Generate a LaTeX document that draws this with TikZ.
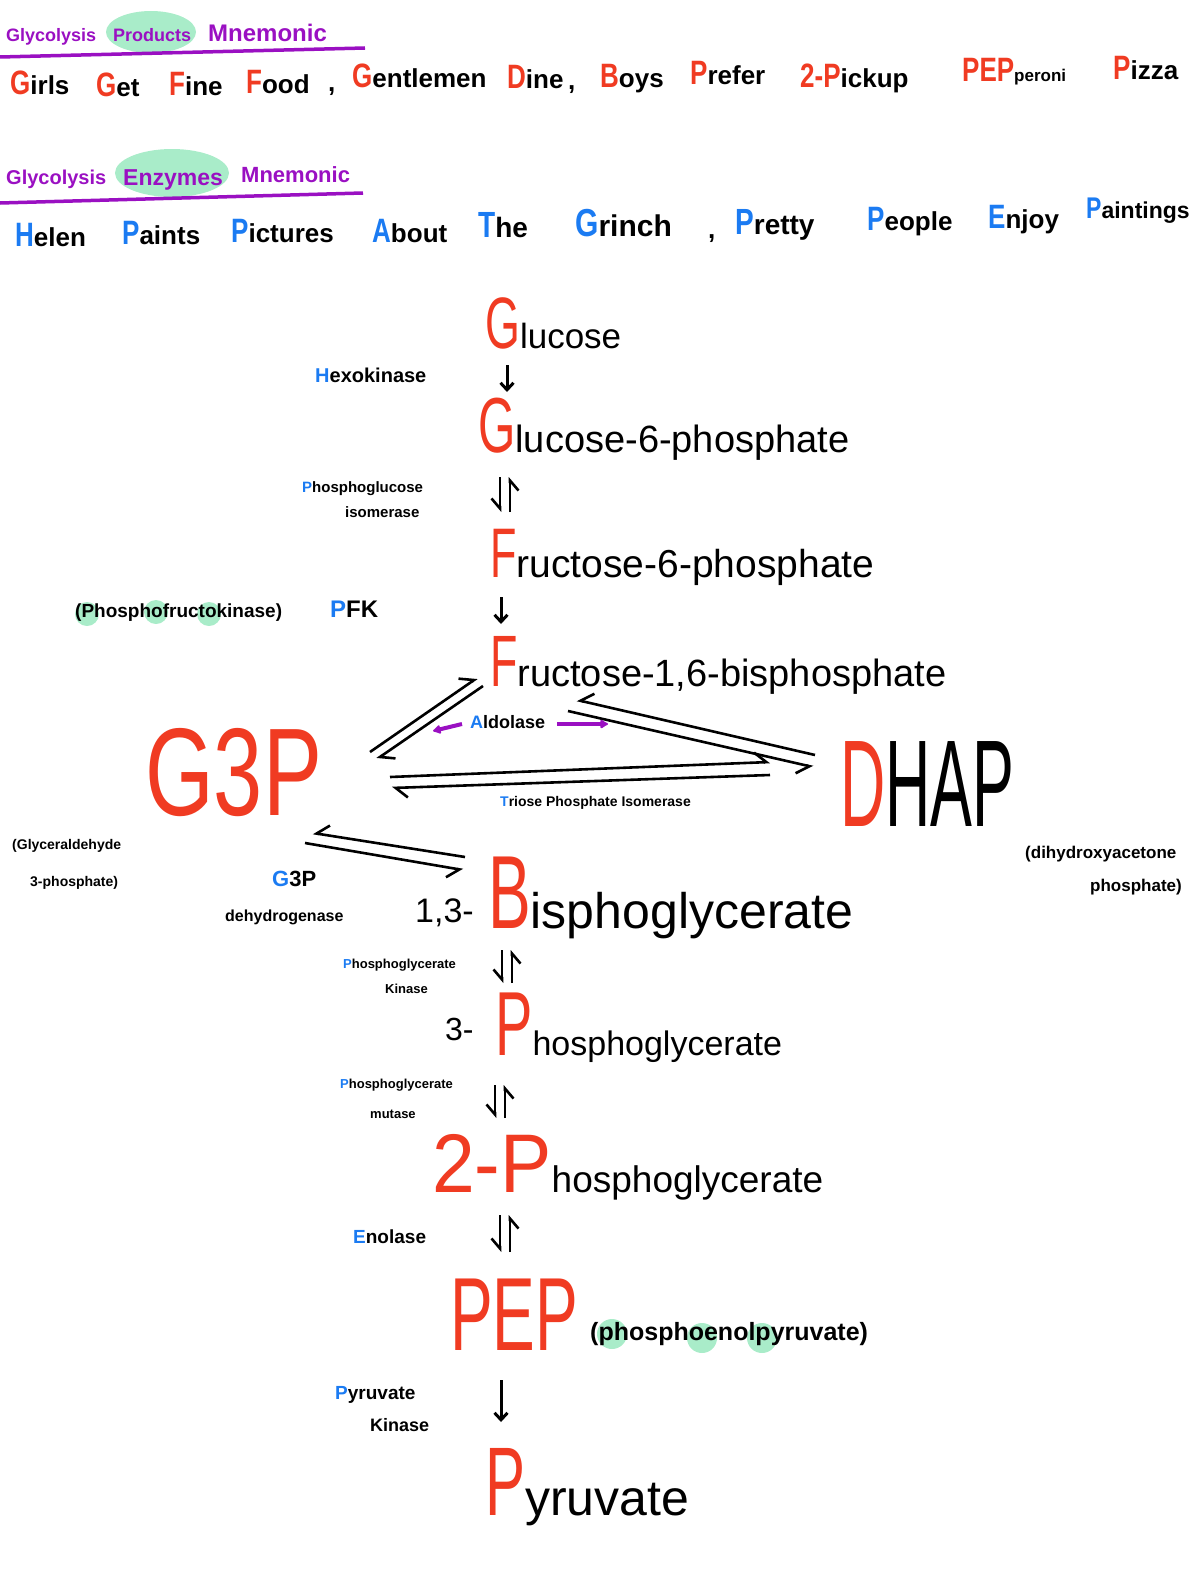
\documentclass[tikz,border=0pt]{standalone}
\usepackage{fontspec}
\setmainfont{Liberation Sans}
\usepackage{graphicx}
\usetikzlibrary{
    arrows.meta,            % Straight Barb harpoons.
    positioning
}

\definecolor{prodred}{HTML}{F03B22}
\definecolor{enzblue}{HTML}{1B7BF2}
\definecolor{mnpurple}{HTML}{9A10C2}
\definecolor{hlgreen}{HTML}{A9ECC9}

\newcommand{\fsz}[1]{\fontsize{#1}{#1}\selectfont}
\newcommand{\rw}[1]{\textcolor{prodred}{\scalebox{1}[1.3]{#1}}}
\newcommand{\bw}[1]{\textcolor{enzblue}{\scalebox{1}[1.3]{#1}}}
\newcommand{\capred}[3][0.8]{{\color{prodred}\fsz{#2}\scalebox{#1}[1.3]{#3}}}

\tikzset{
    word/.style={anchor=base west, inner sep=0pt, font=\bfseries\fsz{26}},
    head/.style={anchor=base west, inner sep=0pt, text=mnpurple, font=\bfseries\fsz{20}},
    prod/.style={anchor=base west, inner sep=0pt},
    enz/.style={anchor=base west, inner sep=0pt, font=\bfseries\fsz{16}},
    fwd/.style={line width=3pt, -{Straight Barb[length=7pt, width=13pt]}},
    hp/.style={line width=2.6pt, -{Straight Barb[harpoon, length=12pt, width=20pt]}},
    hps/.style={line width=2.6pt, -{Straight Barb[harpoon, swap, length=10pt, width=17pt]}},
    ald/.style={mnpurple, line width=4pt, -{Latex[round, length=9pt, width=11pt]}},
    hl/.style={fill=hlgreen, draw=none},
    uline/.style={mnpurple, line width=3.5pt}
}

\begin{document}
\begin{tikzpicture}[x=1pt, y=-1pt]
    \useasboundingbox (0,0) rectangle (1200,1576);
    % green highlights
    \fill[hl] (151,32) ellipse [x radius=45pt, y radius=21pt];
    \fill[hl] (172,173) ellipse [x radius=57pt, y radius=24pt];
    \fill[hl] (87,614) circle [radius=12pt];
    \fill[hl] (156,612) circle [radius=12pt];
    \fill[hl] (209,614) circle [radius=12pt];
    \fill[hl] (612,1334) circle [radius=15pt];
    \fill[hl] (702,1338) circle [radius=15pt];
    \fill[hl] (762,1338) circle [radius=15pt];

    % products mnemonic
    \node[head, font=\bfseries\fsz{18}] (ha1) at (6,42) {Glycolysis};
    \node[head, font=\bfseries\fsz{18}] (ha2) at (113,42) {Products};
    \node[head, font=\bfseries\fsz{24}] (ha3) at (208,42) {Mnemonic};
    \draw[uline] (0,57) -- (365,48);
    \node[word] (m1) at (10,95) {\rw{G}irls};
    \node[word] (m2) at (96,97) {\rw{G}et};
    \node[word] (m3) at (169,96) {\rw{F}ine};
    \node[word] (m4) at (246,94) {\rw{F}ood};
    \node[word] (m5) at (328,92) {,};
    \node[word] (m6) at (352,88) {\rw{G}entlemen};
    \node[word] (m7) at (507,89) {\rw{D}ine};
    \node[word] (m8) at (568,90) {,};
    \node[word] (m9) at (600,88) {\rw{B}oys};
    \node[word] (m10) at (690,85) {\rw{P}refer};
    \node[word] (m11) at (800,88) {\rw{2-P}ickup};
    \node[word] (m12) at (962,82) {\rw{PEP}{\fsz{17}peroni}};
    \node[word] (m13) at (1113,80) {\rw{P}izza};

    % enzymes mnemonic
    \node[head] (hb1) at (6,184) {Glycolysis};
    \node[head, font=\bfseries\fsz{23}] (hb2) at (123,185) {Enzymes};
    \node[head, font=\bfseries\fsz{22}] (hb3) at (241,182) {Mnemonic};
    \draw[uline] (0,203) -- (363,193);
    \node[word] (n1) at (15,246) {\bw{H}elen};
    \node[word] (n2) at (122,244) {\bw{P}aints};
    \node[word] (n3) at (231,242) {\bw{P}ictures};
    \node[word] (n4) at (372,242) {\bw{A}bout};
    \node[word, font=\bfseries\fsz{28}] (n5) at (478,237) {\bw{T}he};
    \node[word, font=\bfseries\fsz{30}] (n6) at (575,236) {\bw{G}rinch};
    \node[word] (n7) at (708,238) {,};
    \node[word, font=\bfseries\fsz{28}] (n8) at (735,234) {\bw{P}retty};
    \node[word] (n9) at (867,230) {\bw{P}eople};
    \node[word] (n10) at (988,228) {\bw{E}njoy};
    \node[word, font=\bfseries\fsz{23}] (n11) at (1086,218) {\bw{P}aintings};

    % pathway
    \node[prod] (glc) at (485,348) {\capred{56}{G}\fsz{35}lucose};
    \node[prod] (g6p) at (478,452) {\capred{60}{G}\fsz{38}lucose-6-phosphate};
    \node[prod] (f6p) at (490,577) {\capred{54}{F}\fsz{39}ructose-6-phosphate};
    \node[prod] (f16bp) at (490,686) {\capred{56}{F}\fsz{38}ructose-1,6-bisphosphate};
    \node[prod] (g3p) at (145,815) {\capred[0.92]{96}{G3P}};
    \node[prod] (dhap) at (840,826) {\fsz{95}\scalebox{0.66}[1.3]{\textcolor{prodred}{D}HAP}};
    \node[prod, font=\fsz{34}] (bpgpre) at (415,922) {1,3-};
    \node[prod] (bpg) at (488,928) {\capred{80}{B}\fsz{50}isphoglycerate};
    \node[prod, font=\fsz{32}] (pg3pre) at (445,1040) {3-};
    \node[prod] (pg3) at (495,1055) {\capred{70}{P}\fsz{34}hosphoglycerate};
    \node[prod] (pg2) at (432,1192) {\capred[1.2]{64}{2-P}\fsz{37}hosphoglycerate};
    \node[prod] (pep) at (450,1350) {\capred{80}{PEP}};
    \node[prod, font=\bfseries\fsz{25}] (pepname) at (590,1340) {(phosphoenolpyruvate)};
    \node[prod] (pyr) at (485,1515) {\capred{75}{P}\fsz{50}yruvate};

    % enzymes
    \node[enz, font=\bfseries\fsz{20}] (hk) at (315,382) {\textcolor{enzblue}{H}exokinase};
    \node[enz, font=\bfseries\fsz{15}] (pgia) at (302,492) {\textcolor{enzblue}{P}hosphoglucose};
    \node[enz, font=\bfseries\fsz{15}] (pgib) at (345,517) {isomerase};
    \node[enz, font=\bfseries\fsz{19}] (pfkname) at (75,617) {(Phosphofructokinase)};
    \node[enz, font=\bfseries\fsz{24}] (pfk) at (330,617) {\textcolor{enzblue}{P}FK};
    \node[enz, font=\bfseries\fsz{18}] (aldo) at (470,728) {\textcolor{enzblue}{A}ldolase};
    \node[enz, font=\bfseries\fsz{14}] (tpi) at (500,806) {\textcolor{enzblue}{T}riose Phosphate Isomerase};
    \node[enz, font=\bfseries\fsz{14}] (galda) at (12,849) {(Glyceraldehyde};
    \node[enz, font=\bfseries\fsz{14}] (galdb) at (30,886) {3-phosphate)};
    \node[enz, font=\bfseries\fsz{22}] (gapdha) at (272,886) {\textcolor{enzblue}{G}3P};
    \node[enz] (gapdhb) at (225,921) {dehydrogenase};
    \node[enz, font=\bfseries\fsz{17}] (dhapa) at (1025,858) {(dihydroxyacetone};
    \node[enz, font=\bfseries\fsz{17}] (dhapb) at (1090,891) {phosphate)};
    \node[enz, font=\bfseries\fsz{13}] (pgka) at (343,968) {\textcolor{enzblue}{P}hosphoglycerate};
    \node[enz, font=\bfseries\fsz{13}] (pgkb) at (385,993) {Kinase};
    \node[enz, font=\bfseries\fsz{13}] (pgma) at (340,1088) {\textcolor{enzblue}{P}hosphoglycerate};
    \node[enz, font=\bfseries\fsz{13}] (pgmb) at (370,1118) {mutase};
    \node[enz, font=\bfseries\fsz{19}] (eno) at (353,1243) {\textcolor{enzblue}{E}nolase};
    \node[enz, font=\bfseries\fsz{19}] (pka) at (335,1399) {\textcolor{enzblue}{P}yruvate};
    \node[enz, font=\bfseries\fsz{18}] (pkb) at (370,1431) {Kinase};

    % one-way steps
    \coordinate (s1a) at (507,365);  \coordinate (s1b) at (507,392);
    \coordinate (s3a) at (501,597);  \coordinate (s3b) at (501,624);
    \coordinate (s10a) at (501,1380); \coordinate (s10b) at (501,1422);
    \draw[fwd] (s1a) -- (s1b);
    \draw[fwd] (s3a) -- (s3b);
    \draw[fwd] (s10a) -- (s10b);

    % reversible steps in the column
    \foreach \x/\ya/\yb in {505/477/512, 507/950/983, 500/1085/1118, 505/1215/1252} {
        \draw[hps] (\x-5,\ya) -- (\x-5,\yb);
        \draw[hps] (\x+5,\yb) -- (\x+5,\ya);
    }

    % aldolase split
    \coordinate (ga1) at (370,752); \coordinate (fa1) at (477,678);
    \coordinate (fa2) at (483,686); \coordinate (ga2) at (377,759);
    \draw[hp] (ga1) -- (fa1);
    \draw[hp] (fa2) -- (ga2);
    \coordinate (fd1) at (568,711); \coordinate (df1) at (813,767);
    \coordinate (df2) at (815,755); \coordinate (fd2) at (577,700);
    \draw[hps, -{Straight Barb[harpoon, swap, length=12pt, width=20pt]}] (df2) -- (fd2);
    \draw[hps, -{Straight Barb[harpoon, swap, length=12pt, width=20pt]}] (fd1) -- (df1);
    \draw[ald] (462,724) -- (433,731);
    \draw[ald] (557,724) -- (608,724);

    % triose isomerase
    \coordinate (gd1) at (390,777); \coordinate (dg1) at (770,762);
    \coordinate (dg2) at (770,775); \coordinate (gd2) at (392,788);
    \draw[hp] (gd1) -- (dg1);
    \draw[hp] (dg2) -- (gd2);

    % G3P dehydrogenase
    \coordinate (gb1) at (305,843); \coordinate (bg1) at (463,870);
    \coordinate (bg2) at (465,857); \coordinate (gb2) at (313,833);
    \draw[hps, -{Straight Barb[harpoon, swap, length=12pt, width=20pt]}] (bg2) -- (gb2);
    \draw[hps, -{Straight Barb[harpoon, swap, length=12pt, width=20pt]}] (gb1) -- (bg1);
\end{tikzpicture}
\end{document}
